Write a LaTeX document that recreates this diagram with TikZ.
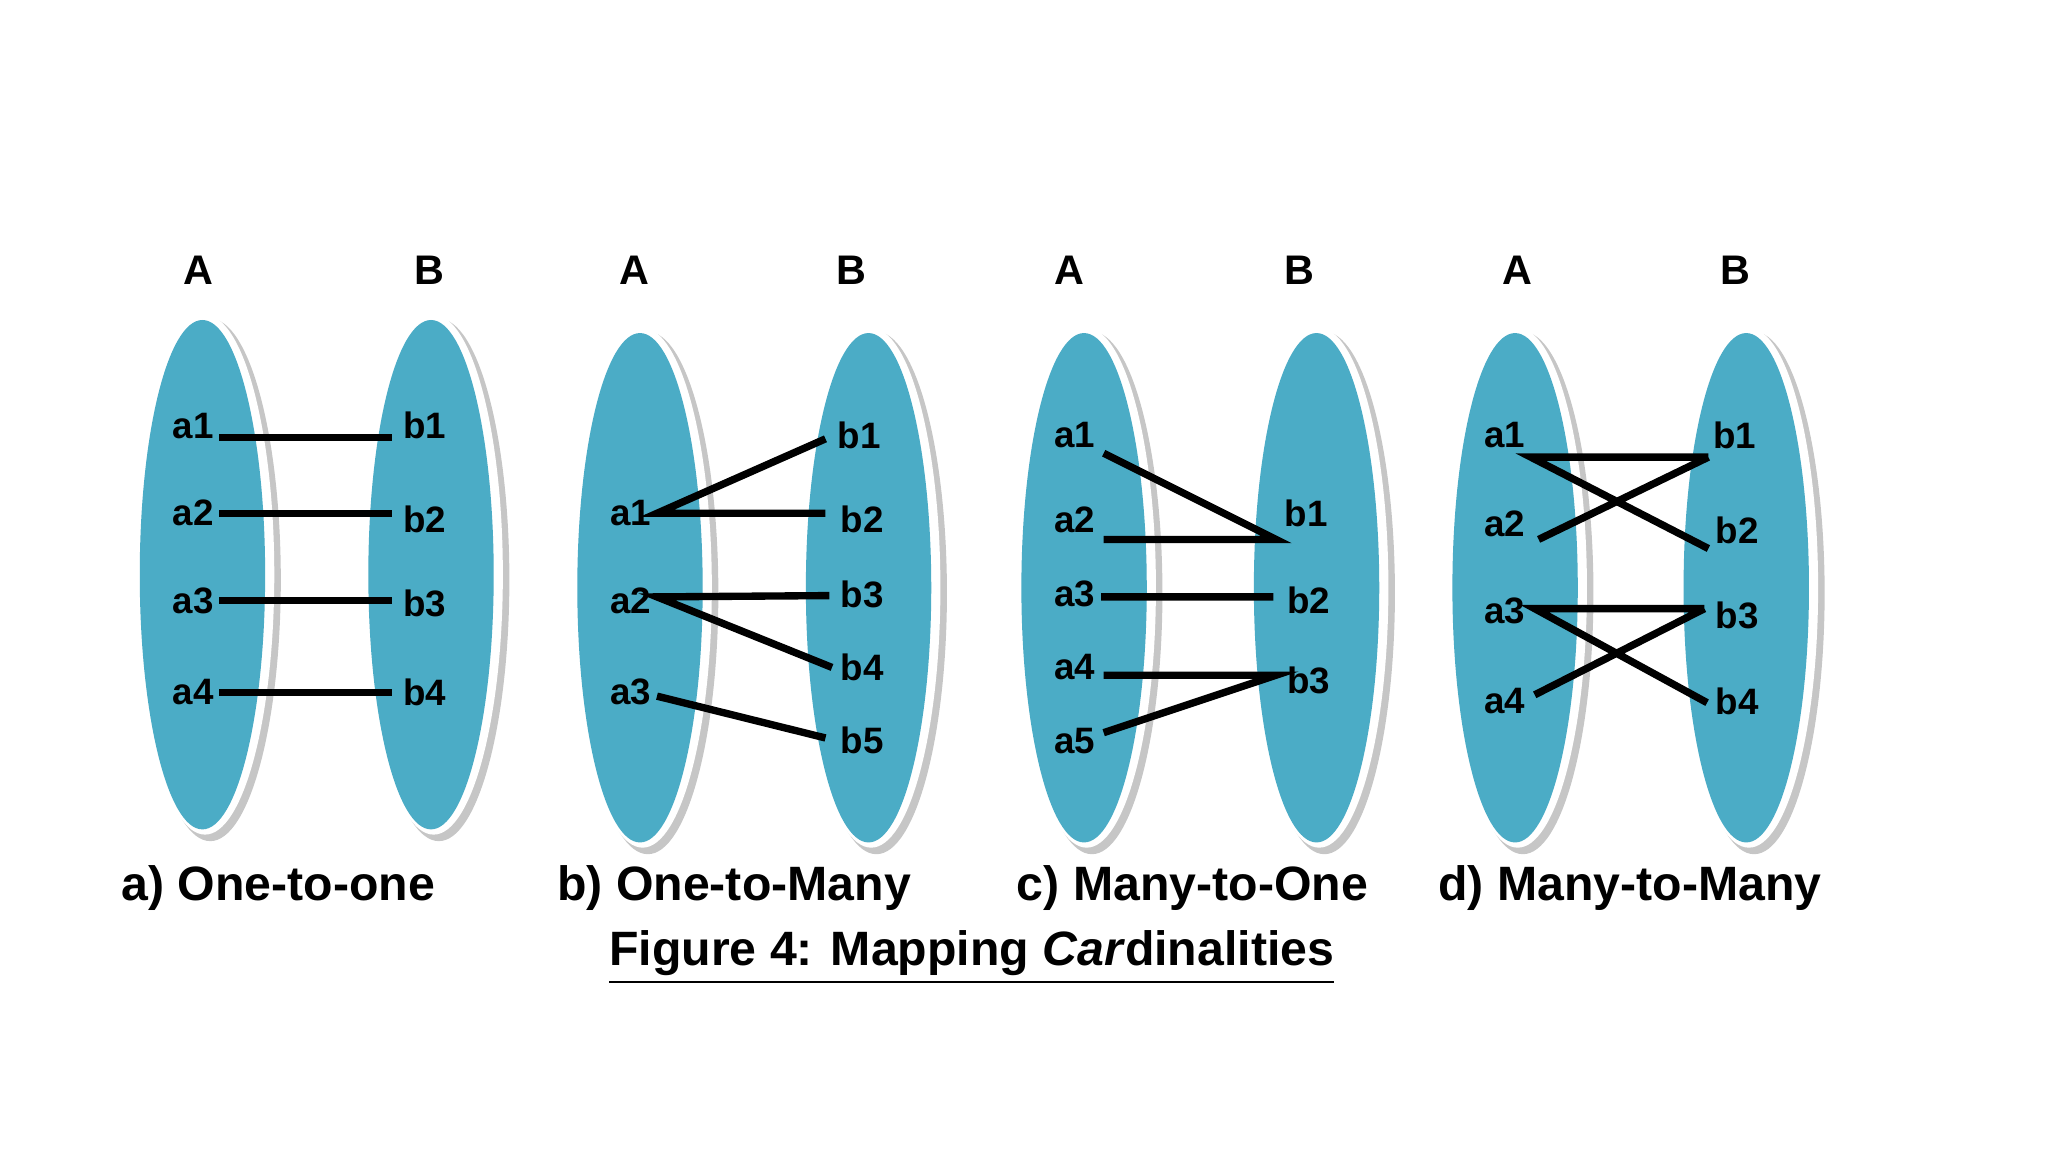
\documentclass[tikz,border=0pt]{standalone}
\usepackage{fontspec}
\setmainfont{Liberation Sans}
\definecolor{setblue}{HTML}{4BACC6}
\tikzset{
  setshape/.style={fill=setblue},
  lbl/.style={font=\bfseries\fontsize{8}{9}\selectfont,inner sep=0pt},
  hdr/.style={font=\bfseries\fontsize{9}{10}\selectfont,inner sep=0pt},
  ttl/.style={font=\bfseries\fontsize{10.5}{12}\selectfont,inner sep=0pt},
  map/.style={line width=1.6pt}
}
\newcommand{\setoval}[3]{% name, x, y
  \fill[gray!45] (#2+6,#3+4) ellipse (54 and 200);
  \fill[white] (#2+2,#3) ellipse (53 and 199);
  \path[setshape] (#2,#3) ellipse (48 and 195);
  \coordinate (#1) at (#2,#3);
}
\begin{document}
\begin{tikzpicture}[x=0.01cm,y=-0.01cm]
\useasboundingbox (0,0) rectangle (1568,882);
% ellipses
\setoval{Aa}{155}{440} \setoval{Ba}{330}{440}
\setoval{Ab}{490}{450} \setoval{Bb}{665}{450}
\setoval{Ac}{830}{450} \setoval{Bc}{1008}{450}
\setoval{Ad}{1160}{450} \setoval{Bd}{1337}{450}
% headers
\foreach \s/\xa/\xb in {a/152/329, b/486/652, c/819/995, d/1162/1329} {
  \node[hdr] (hA\s) at (\xa,207) {A};
  \node[hdr] (hB\s) at (\xb,207) {B};
}
% labels and their line ends
\foreach \n/\lx/\ly/\px/\py in {
  pa1/148/326/168/335, pa2/148/393/168/393, pa3/148/460/168/460, pa4/148/530/168/530,
  qa1/325/326/300/335, qa2/325/398/300/393, qa3/325/462/300/460, qa4/325/530/300/530,
  pb1/483/393/503/393, pb2/483/460/503/457, pb3/483/530/503/533,
  qb1/658/333/632/336, qb2/660/398/632/393, qb3/660/455/635/456, qb4/660/511/637/511, qb5/660/567/632/565,
  pc1/823/333/845/347, pc2/823/398/845/413, pc3/823/455/843/457, pc4/823/511/845/517, pc5/823/567/845/561,
  qc1/1000/393/977/413, qc2/1002/460/975/457, qc3/1002/521/977/517,
  pd1/1152/333/1172/350, pd2/1152/401/1178/413, pd3/1152/468/1175/466, pd4/1152/537/1175/532,
  qd1/1328/333/1308/350, qd2/1330/406/1308/420, qd3/1330/471/1305/466, qd4/1330/537/1307/538} {
  \node[lbl] (l\n) at (\lx,\ly) {\pgfmathparse{"\n"}\expandafter\ifx\csname x\endcsname\relax\fi};
  \coordinate (\n) at (\px,\py);
}
% label texts
\foreach \n/\t in {pa1/a1,pa2/a2,pa3/a3,pa4/a4,qa1/b1,qa2/b2,qa3/b3,qa4/b4,
  pb1/a1,pb2/a2,pb3/a3,qb1/b1,qb2/b2,qb3/b3,qb4/b4,qb5/b5,
  pc1/a1,pc2/a2,pc3/a3,pc4/a4,pc5/a5,qc1/b1,qc2/b2,qc3/b3,
  pd1/a1,pd2/a2,pd3/a3,pd4/a4,qd1/b1,qd2/b2,qd3/b3,qd4/b4}
  \node[lbl] at (l\n) {\t};
% mappings
\draw[map] (pa1) -- (qa1) (pa2) -- (qa2) (pa3) -- (qa3) (pa4) -- (qa4);
\draw[map] (qb1) -- (pb1) -- (qb2) (qb3) -- (pb2) -- (qb4) (pb3) -- (qb5);
\draw[map] (pc1) -- (qc1) -- (pc2) (pc3) -- (qc2) (pc4) -- (qc3) -- (pc5);
\draw[map] (qd1) -- (pd1) -- (qd2) (pd2) -- (qd1);
\draw[map] (qd3) -- (pd3) -- (qd4) (pd4) -- (qd3);
% titles
\node[ttl] (ta) at (213,680) {a) One-to-one};
\node[ttl] (tb) at (562,680) {b) One-to-Many};
\node[ttl] (tc) at (913,680) {c) Many-to-One};
\node[ttl] (td) at (1248,680) {d) Many-to-Many};
\node[ttl] (cap) at (744,733) {\underline{Figure 4: Mapping \textit{Car}dinalities}};
\end{tikzpicture}
\end{document}
